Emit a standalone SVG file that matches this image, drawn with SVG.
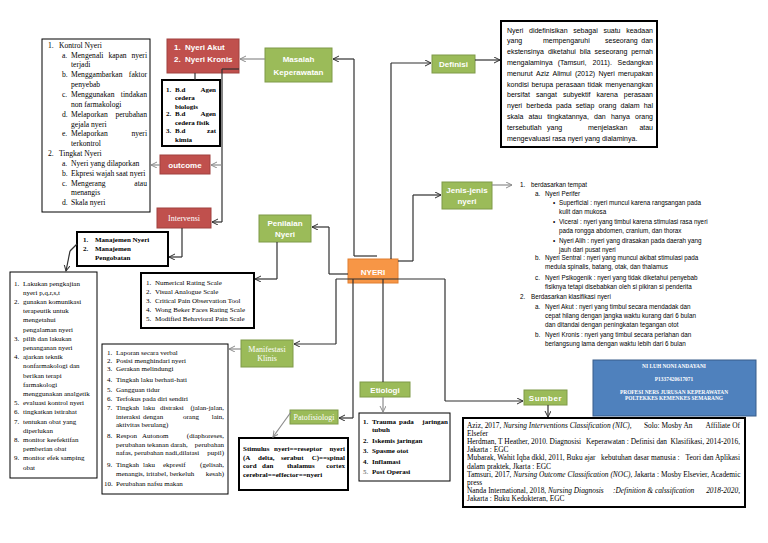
<svg xmlns="http://www.w3.org/2000/svg" width="768" height="543" viewBox="0 0 768 543">
<defs>
<marker id="ad" markerWidth="8" markerHeight="8" refX="6" refY="3" orient="auto" markerUnits="userSpaceOnUse"><path d="M0,0 L6,3 L0,6" fill="none" stroke="#303030" stroke-width="1"/></marker>
<marker id="ag" markerWidth="8" markerHeight="8" refX="6" refY="3" orient="auto" markerUnits="userSpaceOnUse"><path d="M0,0 L6,3 L0,6" fill="none" stroke="#8c8c8c" stroke-width="1"/></marker>
<style>
.bx{fill:#fff;stroke:#000;stroke-width:1}
.bk{fill:#fff;stroke:#000;stroke-width:2}
.red{fill:#c0504d;stroke:#a0413e;stroke-width:1}
.grn{fill:#9bbb59;stroke:#7f9a48;stroke-width:1}
.org{fill:#f79646;stroke:#e07f30;stroke-width:1}
.blu{fill:#4f81bd;stroke:#385d8a;stroke-width:1}
.c{fill:none;stroke:#303030;stroke-width:1.2}
.cg{fill:none;stroke:#8c8c8c;stroke-width:1.2}
.s{font-family:"Liberation Serif","Times New Roman",serif;font-size:7px;fill:#000}
.s7{font-family:"Liberation Serif","Times New Roman",serif;font-size:7.6px;fill:#000}
.sr{font-family:"Liberation Serif","Times New Roman",serif;font-size:7.4px;fill:#000}
.sb{font-family:"Liberation Serif","Times New Roman",serif;font-size:7px;font-weight:bold;fill:#000}
.w{font-family:"Liberation Sans",Arial,sans-serif;font-weight:bold;fill:#fff;font-size:8px;text-anchor:middle}
.wl{font-family:"Liberation Sans",Arial,sans-serif;font-weight:bold;fill:#fff;font-size:8px}
.ws{font-family:"Liberation Serif","Times New Roman",serif;fill:#fff;font-size:8px;text-anchor:middle}
.wb{font-family:"Liberation Serif","Times New Roman",serif;font-weight:bold;fill:#fff;font-size:5.4px;text-anchor:middle}
.d{font-family:"Liberation Sans",Arial,sans-serif;font-size:7px;fill:#000}
.j{font-family:"Liberation Sans",Arial,sans-serif;font-size:6.3px;fill:#000}
.e{text-anchor:end}
.i{font-style:italic}
</style>
</defs>
<rect width="768" height="543" fill="#fff"/>

<g id="kontrol">
<rect class="bx" x="42" y="39" width="108" height="173"/>
<g class="s7">
<text x="48" y="47.6">1.</text><text x="59" y="47.6">Kontrol Nyeri</text>
<text x="62" y="57.5">a.</text><text x="71" y="57.5">Mengenali</text><text x="117.5" y="57.5" text-anchor="middle">kapan</text><text x="147" y="57.5" class="e">nyeri</text>
<text x="71" y="67.3">terjadi</text>
<text x="62" y="77.2">b.</text><text x="71" y="77.2">Menggambarkan</text><text x="147" y="77.2" class="e">faktor</text>
<text x="71" y="87">penyebab</text>
<text x="62" y="96.9">c.</text><text x="71" y="96.9">Menggunakan</text><text x="147" y="96.9" class="e">tindakan</text>
<text x="71" y="106.8">non farmakologi</text>
<text x="62" y="116.6">d.</text><text x="71" y="116.6">Melaporkan</text><text x="147" y="116.6" class="e">perubahan</text>
<text x="71" y="126.5">gejala nyeri</text>
<text x="62" y="136.3">e.</text><text x="71" y="136.3">Melaporkan</text><text x="147" y="136.3" class="e">nyeri</text>
<text x="71" y="146.2">terkontrol</text>
<text x="48" y="156">2.</text><text x="59" y="156">Tingkat Nyeri</text>
<text x="62" y="165.9">a.</text><text x="71" y="165.9">Nyeri yang dilaporkan</text>
<text x="62" y="175.7">b.</text><text x="71" y="175.7">Ekpresi wajah saat nyeri</text>
<text x="62" y="185.6">c.</text><text x="71" y="185.6">Mengerang</text><text x="147" y="185.6" class="e">atau</text>
<text x="71" y="195.4">menangis</text>
<text x="62" y="205.3">d.</text><text x="71" y="205.3">Skala nyeri</text>
</g>
</g>

<g id="nyeri-akut">
<rect class="red" x="167" y="39" width="72" height="34"/>
<text class="wl" x="174" y="50">1.</text><text class="wl" x="185" y="50">Nyeri Akut</text>
<text class="wl" x="174" y="62">2.</text><text class="wl" x="185" y="62">Nyeri Kronis</text>
</g>

<g id="bd">
<rect class="bk" x="162" y="80" width="58" height="66"/>
<g class="sb">
<text x="166" y="91.5">1.</text><text x="175" y="91.5">B.d</text><text x="216" y="91.5" class="e">Agen</text>
<text x="175" y="100">cedera</text>
<text x="175" y="108.5">biologis</text>
<text x="166" y="116">2.</text><text x="175" y="116">B.d</text><text x="216" y="116" class="e">Agen</text>
<text x="175" y="124.5">cedera fisik</text>
<text x="166" y="133">3.</text><text x="175" y="133">B.d</text><text x="216" y="133" class="e">zat</text>
<text x="175" y="141.5">kimia</text>
</g>
</g>

<g id="outcome">
<rect class="red" x="160" y="155" width="50" height="19"/>
<text class="w" x="185" y="168" font-size="9">outcome</text>
</g>

<g id="intervensi">
<rect class="red" x="157" y="208" width="54" height="20"/>
<text class="ws" x="184" y="221" font-size="9">Intervensi</text>
</g>

<g id="manajemen">
<rect class="bk" x="77" y="232" width="91" height="34"/>
<g class="sb" font-size="7.5">
<text x="83" y="241.5">1.</text><text x="95" y="241.5">Manajemen Nyeri</text>
<text x="83" y="250.5">2.</text><text x="95" y="250.5">Manajemen</text>
<text x="95" y="259.5">Pengobatan</text>
</g>
</g>

<g id="tindakan">
<rect class="bx" x="10" y="272" width="87" height="206" stroke-width="1.4"/>
<g class="s">
<text x="14" y="285.5">1.</text><text x="23" y="285.5">Lakukan pengkajian</text>
<text x="23" y="294.7">nyeri p,q,r,s,t</text>
<text x="14" y="303.9">2.</text><text x="23" y="303.9">gunakan komunikasi</text>
<text x="23" y="313.1">terapeutik untuk</text>
<text x="23" y="322.3">mengetahui</text>
<text x="23" y="331.5">pengalaman nyeri</text>
<text x="14" y="340.7">3.</text><text x="23" y="340.7">pilih dan lakukan</text>
<text x="23" y="349.9">penanganan nyeri</text>
<text x="14" y="359.1">4.</text><text x="23" y="359.1">ajarkan teknik</text>
<text x="23" y="368.3">nonfarmakologi dan</text>
<text x="23" y="377.5">berikan terapi</text>
<text x="23" y="386.7">farmakologi</text>
<text x="23" y="395.9">menggunakan analgetik</text>
<text x="14" y="405.1">5.</text><text x="23" y="405.1">evaluasi kontrol nyeri</text>
<text x="14" y="414.3">6.</text><text x="23" y="414.3">tingkatkan istirahat</text>
<text x="14" y="423.5">7.</text><text x="23" y="423.5">tentukan obat yang</text>
<text x="23" y="432.7">diperlukan</text>
<text x="14" y="441.9">8.</text><text x="23" y="441.9">monitor keefektifan</text>
<text x="23" y="451.1">pemberian obat</text>
<text x="14" y="460.3">9.</text><text x="23" y="460.3">monitor efek samping</text>
<text x="23" y="469.5">obat</text>
</g>
</g>

<g id="skala">
<rect class="bk" x="141" y="273" width="113" height="55"/>
<g class="s">
<text x="146" y="284.5">1.</text><text x="155" y="284.5">Numerical Rating Scale</text>
<text x="146" y="293.5">2.</text><text x="155" y="293.5">Visual Analogue Scale</text>
<text x="146" y="302.5">3.</text><text x="155" y="302.5">Critical Pain Observation Tool</text>
<text x="146" y="312">4.</text><text x="155" y="312">Wong Beker Faces Rating Scale</text>
<text x="146" y="321">5.</text><text x="155" y="321">Modified Behavioral Pain Scale</text>
</g>
</g>

<g id="penilaian">
<rect class="grn" x="259" y="215" width="52" height="27"/>
<text class="w" x="285" y="226">Penilaian</text>
<text class="w" x="285" y="237">Nyeri</text>
</g>

<g id="masalah">
<rect class="grn" x="265" y="48" width="67" height="34"/>
<text class="w" x="298.5" y="61.5">Masalah</text>
<text class="w" x="298.5" y="75">Keperawatan</text>
</g>

<g id="definisi">
<rect class="grn" x="432" y="55" width="43" height="18"/>
<text class="w" x="453.5" y="66.5">Definisi</text>
</g>

<g id="definisi-teks">
<rect class="bk" x="501" y="21" width="156" height="126"/>
<g class="d">
<text x="507" y="32.5">Nyeri</text><text x="529" y="32.5">didefinisikan</text><text x="573.2" y="32.5">sebagai</text><text x="603.4" y="32.5">suatu</text><text x="653" y="32.5" class="e">keadaan</text>
<text x="507" y="43.3">yang</text><text x="543" y="43.3">mempengaruhi</text><text x="605" y="43.3">seseorang</text><text x="653" y="43.3" class="e">dan</text>
<text x="507" y="54.1">ekstensinya</text><text x="547.9" y="54.1">diketahui</text><text x="579.8" y="54.1">bila</text><text x="594.6" y="54.1">seseorang</text><text x="653" y="54.1" class="e">pernah</text>
<text x="507" y="64.9">mengalaminya</text><text x="557.7" y="64.9">(Tamsuri,</text><text x="592.5" y="64.9">2011).</text><text x="653" y="64.9" class="e">Sedangkan</text>
<text x="507" y="75.7">menurut</text><text x="536" y="75.7">Aziz</text><text x="552.5" y="75.7">Alimul</text><text x="574.9" y="75.7">(2012)</text><text x="598.4" y="75.7">Nyeri</text><text x="653" y="75.7" class="e">merupakan</text>
<text x="507" y="86.5">kondisi</text><text x="531.4" y="86.5">berupa</text><text x="555.7" y="86.5">perasaan</text><text x="587.5" y="86.5">tidak</text><text x="653" y="86.5" class="e">menyenangkan</text>
<text x="507" y="97.3">bersifat</text><text x="535.9" y="97.3">sangat</text><text x="562.9" y="97.3">subyektif</text><text x="596.5" y="97.3">karena</text><text x="653" y="97.3" class="e">perasaan</text>
<text x="507" y="108.1">nyeri</text><text x="526.3" y="108.1">berbeda</text><text x="556" y="108.1">pada</text><text x="575.7" y="108.1">setiap</text><text x="598.5" y="108.1">orang</text><text x="620.5" y="108.1">dalam</text><text x="653" y="108.1" class="e">hal</text>
<text x="507" y="118.9">skala</text><text x="528.5" y="118.9">atau</text><text x="547.3" y="118.9">tingkatannya,</text><text x="594" y="118.9">dan</text><text x="610.9" y="118.9">hanya</text><text x="653" y="118.9" class="e">orang</text>
<text x="507" y="129.7">tersebutlah</text><text x="547" y="129.7">yang</text><text x="588" y="129.7">menjelaskan</text><text x="653" y="129.7" class="e">atau</text>
<text x="507" y="140.5">mengevaluasi rasa nyeri yang dialaminya.</text>
</g>
</g>

<g id="jenis">
<rect class="grn" x="442" y="182" width="50" height="27"/>
<text class="w" x="467" y="193">Jenis-jenis</text>
<text class="w" x="467" y="204">nyeri</text>
</g>

<g id="jenis-teks" class="j">
<text x="520" y="187.2">1.</text><text x="531" y="187.2">berdasarkan tempat</text>
<text x="535" y="196.2">a.</text><text x="545" y="196.2">Nyeri Perifer</text>
<text x="553" y="205.2">•</text><text x="559" y="205.2">Superficial : nyeri muncul karena rangsangan pada</text>
<text x="559" y="214.2">kulit dan mukosa</text>
<text x="553" y="224.2">•</text><text x="559" y="224.2">Viceral : nyeri yang timbul karena stimulasi rasa nyeri</text>
<text x="559" y="233.2">pada rongga abdomen, cranium, dan thorax</text>
<text x="553" y="243.2">•</text><text x="559" y="243.2">Nyeri Alih : nyeri yang dirasakan pada daerah yang</text>
<text x="559" y="252.2">jauh dari pusat nyeri</text>
<text x="535" y="260.2">b.</text><text x="545" y="260.2">Nyeri Sentral : nyeri yang muncul akibat stimulasi pada</text>
<text x="545" y="269.2">medula spinalis, batang, otak, dan thalamus</text>
<text x="535" y="280.2">c.</text><text x="545" y="280.2">Nyeri Psikogenik : nyeri yang tidak diketahui penyebab</text>
<text x="545" y="289.2">fisiknya tetapi disebabkan oleh si pikiran si penderita</text>
<text x="520" y="299.2">2.</text><text x="531" y="299.2">Berdasarkan klasifikasi nyeri</text>
<text x="535" y="309.2">a.</text><text x="545" y="309.2">Nyeri Akut : nyeri yang timbul secara mendadak dan</text>
<text x="545" y="318.2">cepat hilang dengan jangka waktu kurang dari 6 bulan</text>
<text x="545" y="327.2">dan ditandai dengan peningkatan tegangan otot</text>
<text x="535" y="337.2">b.</text><text x="545" y="337.2">Nyeri Kronis : nyeri yang timbul secara perlahan dan</text>
<text x="545" y="346.2">berlangsung lama dengan waktu lebih dari 6 bulan</text>
</g>

<g id="nyeri">
<rect class="org" x="348" y="259" width="50" height="24"/>
<text class="w" x="373" y="275" font-size="11">NYERI</text>
</g>

<g id="manifestasi">
<rect class="grn" x="241" y="340" width="52" height="27"/>
<text class="ws" x="267" y="351.5" font-size="7.5">Manifestasi</text>
<text class="ws" x="267" y="361" font-size="7.5">Klinis</text>
</g>

<g id="manifestasi-list">
<rect class="bx" x="102" y="344" width="126" height="150"/>
<g class="s">
<text x="107" y="354.5">1.</text><text x="116" y="354.5">Laporan secara verbal</text>
<text x="107" y="362.5">2.</text><text x="116" y="362.5">Posisi menghindari nyeri</text>
<text x="107" y="370.5">3.</text><text x="116" y="370.5">Gerakan melindungi</text>
<text x="107" y="381.5">4.</text><text x="116" y="381.5">Tingkah laku berhati-hati</text>
<text x="107" y="391.5">5.</text><text x="116" y="391.5">Gangguan tidur</text>
<text x="107" y="400.5">6.</text><text x="116" y="400.5">Terfokus pada diri sendiri</text>
<text x="107" y="409.5">7.</text><text x="116" y="409.5">Tingkah</text><text x="143" y="409.5">laku</text><text x="160" y="409.5">distraksi</text><text x="224" y="409.5" class="e">(jalan-jalan,</text>
<text x="116" y="418.5">interaksi</text><text x="143" y="418.5">dengan</text><text x="183" y="418.5">orang</text><text x="224" y="418.5" class="e">lain,</text>
<text x="116" y="426.5">aktivitas berulang)</text>
<text x="107" y="437.5">8.</text><text x="116" y="437.5">Respon</text><text x="142" y="437.5">Autonom</text><text x="224" y="437.5" class="e">(diaphoreses,</text>
<text x="116" y="446.5">perubahan tekanan darah,</text><text x="224" y="446.5" class="e">perubahan</text>
<text x="116" y="454.5">nafas, perubahan nadi,dilatasi</text><text x="224" y="454.5" class="e">pupil)</text>
<text x="107" y="466.5">9.</text><text x="116" y="466.5">Tingkah</text><text x="143" y="466.5">laku</text><text x="163" y="466.5">ekpresif</text><text x="224" y="466.5" class="e">(gelisah,</text>
<text x="116" y="475.5">menangis, iritabel, berkeluh</text><text x="224" y="475.5" class="e">kesah)</text>
<text x="104" y="485.5">10.</text><text x="116" y="485.5">Perubahan nafsu makan</text>
</g>
</g>

<g id="patofisiologi">
<rect class="grn" x="290" y="410" width="48" height="14"/>
<text class="ws" x="314" y="420" font-size="7.5">Patofisiologi</text>
</g>

<g id="patofisiologi-teks">
<rect class="bk" x="239" y="438" width="109" height="52"/>
<g class="sb">
<text x="243" y="450.5">Stimulus</text><text x="274" y="450.5">nyeri==reseptor</text><text x="345" y="450.5" class="e">nyeri</text>
<text x="243" y="459.5">(A</text><text x="258" y="459.5">delta,</text><text x="281" y="459.5">serabut</text><text x="345" y="459.5" class="e">C)==spinal</text>
<text x="243" y="467.5">cord</text><text x="262" y="467.5">dan</text><text x="287" y="467.5">thalamus</text><text x="345" y="467.5" class="e">cortex</text>
<text x="243" y="476.5">cerebral==effector==nyeri</text>
</g>
</g>

<g id="etiologi">
<rect class="grn" x="360" y="382" width="50" height="15"/>
<text class="w" x="385" y="392.5" font-size="7.5">Etiologi</text>
</g>

<g id="etiologi-list">
<rect class="bx" x="359" y="413" width="91" height="68"/>
<g class="sb" font-size="7.5">
<text x="363" y="423.5">1.</text><text x="372" y="423.5">Trauma</text><text x="399" y="423.5">pada</text><text x="448" y="423.5" class="e">jaringan</text>
<text x="372" y="431.5">tubuh</text>
<text x="363" y="443">2.</text><text x="372" y="443">Iskemis jaringan</text>
<text x="363" y="453">3.</text><text x="372" y="453">Spasme otot</text>
<text x="363" y="463.5">4.</text><text x="372" y="463.5">Inflamasi</text>
<text x="363" y="474" fill="#8c8c8c">5.</text><text x="372" y="474">Post Operasi</text>
</g>
</g>

<g id="identitas">
<rect class="blu" x="593" y="360" width="163" height="56"/>
<text class="wb" x="674" y="367.5">NI LUH NONI ANDAYANI</text>
<text class="wb" x="674" y="380.5">P1337420617071</text>
<text class="wb" x="674" y="394">PROFESI NERS JURUSAN KEPERAWATAN</text>
<text class="wb" x="674" y="400">POLTEKKES KEMENKES SEMARANG</text>
</g>

<g id="sumber">
<rect class="grn" x="524" y="390" width="43" height="15"/>
<text class="w" x="545.5" y="400.5" font-size="7.5" letter-spacing="0.6">Sumber</text>
</g>

<g id="sumber-list">
<rect class="bk" x="463" y="418" width="282" height="89"/>
<g class="sr">
<text x="467" y="427.5">Aziz, 2017, <tspan class="i">Nursing Interventions Classification (NIC),</tspan></text><text x="644" y="427.5">Solo: Mosby An</text><text x="740" y="427.5" class="e">Affiliate Of</text>
<text x="467" y="435.7">Elsefer</text>
<text x="467" y="443.9">Herdman, T Heather, 2010. Diagnosisi</text><text x="586" y="443.9">Keperawatan : Definisi dan</text><text x="740" y="443.9" class="e">Klasifikasi, 2014-2016,</text>
<text x="467" y="452.1">Jakarta : EGC</text>
<text x="467" y="460.3">Mubarak, Wahit Iqba dkkl, 2011, Buku ajar</text><text x="601" y="460.3">kebutuhan dasar manusia :</text><text x="740" y="460.3" class="e">Teori dan Aplikasi</text>
<text x="467" y="468.5">dalam praktek, Jkarta : EGC</text>
<text x="467" y="476.7">Tamsuri, 2017, <tspan class="i">Nursing Outcome Classification (NOC)</tspan>, Jakarta : Mosby Elsevier, Academic</text>
<text x="467" y="484.9">press</text>
<text x="467" y="493.1">Nanda International, 2018, <tspan class="i">Nursing Diagnosis</tspan></text><text x="613" y="493.1" class="i">:Definition &amp; calssification</text><text x="740" y="493.1" class="i e">2018-2020,</text>
<text x="467" y="501.3">Jakarta : Buku Kedokteran, EGC</text>
</g>
</g>

<g id="connectors">
<line class="cg" x1="265" y1="59" x2="240" y2="59" marker-end="url(#ag)"/>
<line class="c" x1="195" y1="73" x2="195" y2="80"/>
<line class="c" x1="239" y1="69" x2="222" y2="69"/>
<line class="c" x1="222" y1="69" x2="222" y2="222"/>
<line class="c" x1="222" y1="222" x2="212" y2="222" marker-end="url(#ad)"/>
<line class="cg" x1="222" y1="165" x2="211" y2="165" marker-end="url(#ag)"/>
<line class="cg" x1="160" y1="165" x2="151" y2="165" marker-end="url(#ag)"/>
<line class="c" x1="182" y1="228" x2="182" y2="257"/>
<line class="c" x1="182" y1="257" x2="169" y2="257" marker-end="url(#ad)"/>
<line class="c" x1="77" y1="244" x2="70" y2="251"/>
<line class="c" x1="70" y1="251" x2="66" y2="271" marker-end="url(#ad)"/>
<line class="c" x1="348" y1="274" x2="329" y2="274"/>
<line class="c" x1="329" y1="274" x2="329" y2="227"/>
<line class="c" x1="329" y1="227" x2="312" y2="227" marker-end="url(#ad)"/>
<line class="c" x1="277" y1="242" x2="277" y2="279"/>
<line class="c" x1="277" y1="279" x2="255" y2="279" marker-end="url(#ad)"/>
<line class="c" x1="377" y1="256" x2="354" y2="256"/>
<line class="c" x1="354" y1="256" x2="354" y2="59"/>
<line class="c" x1="354" y1="59" x2="333" y2="59" marker-end="url(#ad)"/>
<line class="c" x1="391" y1="259" x2="391" y2="63"/>
<line class="c" x1="391" y1="63" x2="431" y2="63" marker-end="url(#ad)"/>
<line class="c" x1="475" y1="60" x2="500" y2="60" marker-end="url(#ad)"/>
<line class="c" x1="398" y1="261" x2="413" y2="261"/>
<line class="c" x1="413" y1="261" x2="413" y2="195"/>
<line class="c" x1="413" y1="195" x2="441" y2="195" marker-end="url(#ad)"/>
<line class="cg" x1="492" y1="185" x2="512" y2="185" marker-end="url(#ag)"/>
<line class="c" x1="336" y1="279" x2="445" y2="279"/>
<line class="c" x1="336" y1="279" x2="336" y2="344"/>
<line class="c" x1="336" y1="344" x2="294" y2="344" marker-end="url(#ad)"/>
<line class="c" x1="353" y1="279" x2="353" y2="418"/>
<line class="c" x1="353" y1="418" x2="339" y2="418" marker-end="url(#ad)"/>
<line class="c" x1="383" y1="279" x2="383" y2="382"/>
<line class="cg" x1="383" y1="397" x2="383" y2="412" marker-end="url(#ag)"/>
<line class="c" x1="445" y1="279" x2="445" y2="401"/>
<line class="c" x1="445" y1="401" x2="523" y2="401" marker-end="url(#ad)"/>
<line class="c" x1="548" y1="405" x2="548" y2="417" marker-end="url(#ad)"/>
<line class="cg" x1="241" y1="349" x2="229" y2="349" marker-end="url(#ag)"/>
<line class="cg" x1="291" y1="412" x2="273" y2="437" marker-end="url(#ag)"/>
</g>
</svg>
